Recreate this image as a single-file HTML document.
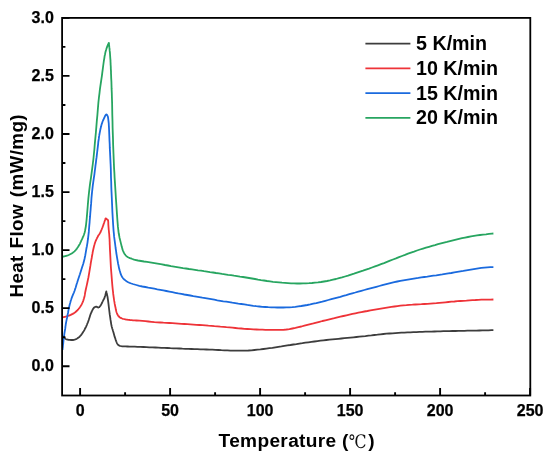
<!DOCTYPE html>
<html lang="en"><head><meta charset="utf-8"><title>Heat Flow vs Temperature</title>
<style>html,body{margin:0;padding:0;background:#fff}svg{display:block}</style></head>
<body>
<svg width="550" height="461" viewBox="0 0 550 461">
<rect width="550" height="461" fill="#fff"/>
<clipPath id="c"><rect x="62.1" y="17.9" width="468.2" height="377.6"/></clipPath>
<g clip-path="url(#c)" fill="none" stroke-linejoin="round" stroke-linecap="butt" stroke-width="1.80">
<path d="M62.1 336.0L62.3 336.1L62.5 336.1L62.6 336.2L62.8 336.3L63.0 336.4L63.2 336.5L63.6 336.8L64.0 337.2L64.4 337.7L64.8 338.2L65.3 338.7L65.8 339.0L66.4 339.3L67.1 339.5L67.9 339.6L68.7 339.8L69.4 339.8L70.2 339.9L70.9 340.0L71.6 340.0L72.4 340.0L73.1 340.0L73.8 339.9L74.5 339.7L75.3 339.4L76.0 339.1L76.8 338.7L77.5 338.3L78.2 337.8L78.9 337.3L79.6 336.7L80.2 336.0L80.8 335.3L81.4 334.6L82.0 333.8L82.5 333.0L83.0 332.2L83.6 331.3L84.1 330.5L84.6 329.6L85.0 328.7L85.5 327.8L86.0 326.8L86.4 325.8L86.9 324.8L87.3 323.7L87.8 322.6L88.2 321.5L88.7 320.1L89.2 318.5L89.7 316.9L90.2 315.3L90.7 313.9L91.3 312.5L91.8 311.5L92.2 310.5L92.7 309.6L93.2 308.8L93.7 308.0L94.2 307.5L94.6 307.2L94.9 307.0L95.3 306.9L95.7 306.8L96.0 306.7L96.4 306.7L96.8 306.8L97.1 306.9L97.5 307.2L97.8 307.4L98.2 307.5L98.5 307.5L98.9 307.3L99.3 307.1L99.6 306.7L100.0 306.2L100.4 305.8L100.7 305.3L101.1 304.7L101.5 303.9L101.9 303.2L102.2 302.4L102.6 301.6L102.9 300.9L103.2 300.4L103.4 299.9L103.7 299.5L103.9 299.0L104.2 298.6L104.4 298.0L104.7 297.1L105.1 296.0L105.4 294.9L105.7 293.7L106.0 292.5L106.3 291.4L106.5 292.5L106.8 293.5L107.0 294.5L107.2 295.6L107.5 296.7L107.7 298.0L108.0 300.1L108.3 302.4L108.6 304.9L108.9 307.5L109.2 310.0L109.5 312.5L109.8 314.9L110.2 317.3L110.5 319.7L110.9 322.0L111.2 324.1L111.6 326.0L111.8 327.0L112.1 327.9L112.3 328.7L112.6 329.5L112.8 330.3L113.1 331.2L113.5 332.5L113.9 334.0L114.3 335.5L114.7 336.9L115.2 338.3L115.6 339.6L115.9 340.4L116.2 341.3L116.5 342.0L116.8 342.8L117.1 343.4L117.5 344.0L117.8 344.4L118.1 344.7L118.4 345.1L118.8 345.3L119.2 345.6L119.6 345.8L120.4 346.0L121.2 346.2L122.2 346.3L123.2 346.3L124.3 346.3L125.5 346.4L127.5 346.5L129.8 346.6L132.2 346.7L134.8 346.7L137.4 346.8L140.4 346.9L143.4 347.0L146.4 347.1L149.4 347.3L152.4 347.4L155.4 347.5L158.4 347.6L161.4 347.8L164.4 347.9L167.4 348.0L170.4 348.2L173.4 348.3L176.4 348.4L179.4 348.5L182.4 348.7L185.4 348.8L188.4 348.9L191.4 349.0L194.4 349.1L197.4 349.2L200.4 349.3L203.4 349.4L206.4 349.5L209.4 349.6L212.4 349.7L215.4 349.9L218.4 350.0L221.4 350.2L224.4 350.3L227.4 350.4L230.4 350.6L233.4 350.7L236.4 350.7L239.4 350.7L242.4 350.7L245.4 350.6L248.4 350.5L251.4 350.3L254.4 350.0L257.4 349.7L260.4 349.4L263.4 349.0L266.4 348.6L269.4 348.2L272.4 347.8L275.4 347.3L278.4 346.8L281.4 346.4L284.4 345.9L287.4 345.4L290.4 345.0L293.4 344.5L296.4 344.1L299.4 343.6L302.4 343.2L305.4 342.7L308.4 342.3L311.4 341.9L314.4 341.5L317.4 341.1L320.4 340.7L323.4 340.3L326.4 340.0L329.4 339.7L332.4 339.4L335.4 339.1L338.4 338.8L341.4 338.5L344.4 338.2L347.4 337.9L350.4 337.6L353.4 337.3L356.4 337.0L359.4 336.7L362.4 336.4L365.4 336.1L368.4 335.7L371.4 335.4L374.4 335.0L377.4 334.7L380.4 334.3L383.4 334.0L386.4 333.7L389.4 333.5L392.4 333.3L395.4 333.1L398.4 332.9L401.4 332.7L404.4 332.6L407.4 332.4L410.4 332.3L413.4 332.2L416.4 332.1L419.4 331.9L422.4 331.8L425.4 331.7L428.4 331.6L431.4 331.6L434.4 331.5L437.4 331.4L440.4 331.3L443.4 331.2L446.4 331.2L449.4 331.1L452.4 331.0L455.4 331.0L458.4 330.9L461.4 330.9L464.4 330.8L467.4 330.7L470.4 330.7L473.4 330.6L476.4 330.6L479.4 330.5L482.4 330.4L485.4 330.4L488.4 330.3L491.4 330.2L493.4 330.2" stroke="#3d3d3d"/>
<path d="M62.1 317.4L62.3 317.4L62.5 317.3L62.6 317.3L62.8 317.3L63.1 317.3L63.3 317.2L64.0 317.0L64.8 316.9L65.8 316.6L66.8 316.3L67.8 316.0L68.7 315.7L69.7 315.3L70.7 314.9L71.7 314.4L72.7 313.9L73.6 313.4L74.5 312.8L75.3 312.2L76.1 311.5L76.9 310.8L77.6 310.0L78.3 309.3L78.9 308.5L79.5 307.8L80.0 307.1L80.5 306.4L80.9 305.6L81.4 304.9L81.8 304.1L82.2 303.2L82.6 302.3L83.0 301.3L83.4 300.3L83.7 299.3L84.0 298.3L84.3 297.2L84.6 296.0L84.8 294.9L85.0 293.6L85.2 292.4L85.5 291.0L85.9 289.0L86.4 286.9L86.9 284.6L87.4 282.3L87.9 279.9L88.4 277.5L88.9 274.7L89.4 271.7L89.9 268.7L90.4 265.7L90.8 262.8L91.3 260.1L91.7 258.0L92.0 256.0L92.4 254.0L92.7 252.1L93.1 250.2L93.5 248.5L93.8 247.2L94.1 245.9L94.5 244.6L94.8 243.5L95.2 242.3L95.6 241.2L96.0 240.3L96.4 239.4L96.8 238.6L97.2 237.7L97.6 237.0L98.0 236.2L98.4 235.6L98.7 235.0L99.1 234.5L99.5 233.9L99.8 233.3L100.2 232.7L100.7 231.8L101.1 230.7L101.6 229.6L102.0 228.5L102.5 227.4L102.9 226.2L103.4 224.9L103.8 223.6L104.3 222.3L104.7 221.0L105.2 219.6L105.6 218.3L108.1 220.2L108.2 221.5L108.3 222.8L108.3 224.1L108.4 225.4L108.5 226.7L108.6 228.0L108.7 229.5L108.9 231.0L109.0 232.5L109.2 234.0L109.3 235.5L109.4 237.0L109.5 238.4L109.6 239.7L109.6 241.0L109.7 242.4L109.7 243.9L109.8 245.5L109.9 248.6L110.1 252.0L110.3 255.8L110.5 259.7L110.7 263.6L110.9 267.4L111.2 271.2L111.5 275.0L111.8 278.9L112.1 282.7L112.4 286.1L112.7 289.2L112.9 290.9L113.1 292.4L113.2 293.9L113.4 295.2L113.6 296.6L113.8 298.0L114.0 299.5L114.2 300.9L114.5 302.4L114.7 303.9L115.0 305.3L115.3 306.7L115.6 308.0L115.8 309.3L116.1 310.6L116.4 311.8L116.8 313.0L117.2 314.0L117.6 314.7L118.0 315.4L118.4 316.0L118.9 316.5L119.4 317.0L120.0 317.5L120.6 317.9L121.4 318.2L122.1 318.5L122.9 318.8L123.7 319.0L124.5 319.2L125.4 319.4L126.2 319.6L127.1 319.7L128.0 319.8L129.0 319.9L130.0 320.0L131.5 320.1L133.1 320.3L134.7 320.4L136.4 320.5L139.4 320.7L142.4 320.9L145.4 321.2L148.4 321.5L151.4 321.8L154.4 322.1L157.4 322.3L160.4 322.5L163.4 322.7L166.4 322.8L169.4 323.0L172.4 323.2L175.4 323.4L178.4 323.6L181.4 323.8L184.4 324.0L187.4 324.2L190.4 324.4L193.4 324.6L196.4 324.8L199.4 325.0L202.4 325.2L205.4 325.4L208.4 325.7L211.4 325.9L214.4 326.2L217.4 326.4L220.4 326.7L223.4 326.9L226.4 327.2L229.4 327.4L232.4 327.7L235.4 328.0L238.4 328.3L241.4 328.5L244.4 328.8L247.4 329.0L250.4 329.2L253.4 329.4L256.4 329.5L259.4 329.6L262.4 329.7L265.4 329.8L268.4 329.8L271.4 329.9L274.4 329.9L277.4 329.9L280.4 329.9L283.4 329.8L286.4 329.5L289.4 329.1L292.4 328.5L295.4 327.9L298.4 327.2L301.4 326.5L304.4 325.7L307.4 324.9L310.4 324.1L313.4 323.4L316.4 322.6L319.4 321.8L322.4 321.0L325.4 320.3L328.4 319.6L331.4 318.9L334.4 318.2L337.4 317.4L340.4 316.7L343.4 316.0L346.4 315.3L349.4 314.6L352.4 313.9L355.4 313.3L358.4 312.7L361.4 312.1L364.4 311.5L367.4 311.0L370.4 310.4L373.4 309.9L376.4 309.4L379.4 308.9L382.4 308.4L385.4 307.9L388.4 307.4L391.4 306.9L394.4 306.5L397.4 306.1L400.4 305.7L403.4 305.3L406.4 305.1L409.4 304.8L412.4 304.7L415.4 304.5L418.4 304.3L421.4 304.2L424.4 304.0L427.4 303.8L430.4 303.6L433.4 303.4L436.4 303.2L439.4 302.9L442.4 302.6L445.4 302.3L448.4 302.0L451.4 301.7L454.4 301.5L457.4 301.2L460.4 301.0L463.4 300.8L466.4 300.6L469.4 300.3L472.4 300.1L475.4 300.0L478.4 299.8L481.4 299.7L484.4 299.7L487.4 299.6L490.4 299.6L493.4 299.5" stroke="#ee3338"/>
<path d="M62.5 350.0L62.6 348.7L62.8 347.4L62.9 346.1L63.0 344.9L63.2 343.6L63.3 342.4L63.4 341.4L63.5 340.4L63.6 339.4L63.7 338.5L63.9 337.5L64.0 336.5L64.2 335.3L64.3 334.1L64.5 332.9L64.7 331.7L64.9 330.5L65.1 329.3L65.3 328.2L65.4 327.2L65.5 326.1L65.7 325.1L65.8 324.0L66.0 323.0L66.2 321.9L66.4 320.9L66.6 319.9L66.8 318.8L67.1 317.7L67.3 316.5L67.6 314.8L68.0 313.0L68.3 311.0L68.7 309.1L69.1 307.2L69.5 305.5L69.8 304.2L70.2 303.0L70.5 301.8L70.8 300.6L71.2 299.5L71.6 298.3L72.0 297.1L72.5 295.9L73.0 294.7L73.5 293.5L74.0 292.3L74.5 291.0L75.0 289.4L75.6 287.8L76.1 286.1L76.6 284.3L77.2 282.5L77.8 280.5L78.8 277.5L79.9 274.3L81.0 270.8L82.1 267.3L83.2 264.0L84.0 261.0L84.5 259.0L84.9 257.0L85.3 255.2L85.6 253.4L85.9 251.6L86.2 249.8L86.5 248.0L86.9 246.2L87.2 244.4L87.5 242.6L87.7 240.8L88.0 239.0L88.2 237.2L88.4 235.4L88.6 233.7L88.8 231.9L88.9 230.0L89.1 228.0L89.3 225.3L89.6 222.3L89.8 219.3L90.1 216.2L90.3 213.1L90.6 210.0L90.8 207.0L91.1 203.9L91.3 200.9L91.5 197.8L91.8 194.7L92.1 191.6L92.5 188.2L92.9 184.7L93.4 181.2L93.9 177.7L94.4 174.3L94.8 171.0L95.2 168.1L95.5 165.3L95.9 162.6L96.2 159.9L96.6 157.2L96.9 154.5L97.2 152.0L97.5 149.4L97.8 146.8L98.1 144.3L98.3 142.0L98.6 140.0L98.8 138.9L98.9 137.8L99.0 136.8L99.2 135.9L99.3 135.0L99.5 134.0L99.7 132.9L99.9 131.9L100.1 130.8L100.3 129.7L100.6 128.6L100.8 127.6L101.1 126.6L101.3 125.6L101.6 124.6L101.9 123.6L102.2 122.7L102.5 121.8L102.8 121.0L103.1 120.3L103.5 119.5L103.8 118.8L104.1 118.1L104.4 117.5L104.6 117.1L104.8 116.7L104.9 116.3L105.1 115.9L105.3 115.6L105.5 115.3L105.7 115.1L105.8 114.9L106.0 114.7L106.2 114.6L106.3 114.5L106.5 114.5L106.7 114.6L106.9 114.7L107.1 115.0L107.3 115.3L107.4 115.6L107.6 115.9L107.8 116.5L108.0 117.1L108.1 117.9L108.2 118.7L108.3 119.5L108.4 120.3L108.5 121.2L108.6 122.1L108.7 123.0L108.8 123.9L108.8 125.0L108.9 126.1L109.0 128.1L109.1 130.3L109.2 132.7L109.3 135.3L109.4 137.9L109.5 140.6L109.7 144.2L109.8 147.9L110.0 151.8L110.2 155.9L110.4 159.9L110.6 164.0L110.8 168.4L110.9 172.8L111.0 177.4L111.2 182.0L111.3 186.7L111.5 191.6L111.8 198.0L112.1 204.9L112.4 212.1L112.8 219.0L113.2 225.5L113.6 231.0L113.9 233.8L114.1 236.4L114.4 238.7L114.7 240.9L115.0 243.2L115.3 245.5L115.6 248.0L116.0 250.5L116.3 253.0L116.7 255.4L117.1 257.8L117.5 260.1L117.8 261.9L118.1 263.7L118.5 265.4L118.8 267.1L119.2 268.7L119.6 270.3L120.0 271.6L120.4 272.9L120.8 274.2L121.3 275.4L121.9 276.5L122.5 277.5L123.1 278.3L123.9 279.1L124.6 279.8L125.4 280.4L126.2 281.0L126.9 281.5L127.4 281.8L127.9 282.1L128.3 282.3L128.8 282.5L129.4 282.8L130.0 283.0L131.3 283.5L132.8 284.0L134.5 284.5L136.3 285.0L139.3 285.8L142.3 286.5L145.3 287.0L148.3 287.6L151.3 288.1L154.3 288.7L157.3 289.3L160.3 289.8L163.3 290.4L166.3 291.0L169.3 291.6L172.3 292.2L175.3 292.8L178.3 293.4L181.3 293.9L184.3 294.5L187.3 295.0L190.3 295.5L193.3 296.1L196.3 296.6L199.3 297.1L202.3 297.7L205.3 298.2L208.3 298.7L211.3 299.2L214.3 299.7L217.3 300.3L220.3 300.8L223.3 301.3L226.3 301.7L229.3 302.2L232.3 302.7L235.3 303.1L238.3 303.6L241.3 304.0L244.3 304.4L247.3 304.9L250.3 305.3L253.3 305.8L256.3 306.2L259.3 306.5L262.3 306.8L265.3 307.0L268.3 307.2L271.3 307.3L274.3 307.4L277.3 307.5L280.3 307.5L283.3 307.5L286.3 307.4L289.3 307.3L292.3 307.1L295.3 306.8L298.3 306.4L301.3 306.0L304.3 305.5L307.3 305.0L310.3 304.4L313.3 303.7L316.3 303.1L319.3 302.3L322.3 301.6L325.3 300.8L328.3 300.0L331.3 299.2L334.3 298.4L337.3 297.6L340.3 296.8L343.3 295.9L346.3 295.1L349.3 294.2L352.3 293.3L355.3 292.5L358.3 291.6L361.3 290.8L364.3 290.0L367.3 289.2L370.3 288.4L373.3 287.6L376.3 286.8L379.3 286.0L382.3 285.2L385.3 284.4L388.3 283.6L391.3 282.9L394.3 282.2L397.3 281.5L400.3 280.9L403.3 280.3L406.3 279.8L409.3 279.3L412.3 278.8L415.3 278.3L418.3 277.9L421.3 277.4L424.3 277.0L427.3 276.6L430.3 276.1L433.3 275.7L436.3 275.3L439.3 274.8L442.3 274.4L445.3 273.9L448.3 273.4L451.3 273.0L454.3 272.4L457.3 271.9L460.3 271.4L463.3 270.9L466.3 270.3L469.3 269.8L472.3 269.3L475.3 268.8L478.3 268.3L481.3 267.9L484.3 267.6L487.3 267.4L490.3 267.2L493.3 267.1L493.4 267.1" stroke="#1a6ade"/>
<path d="M62.1 256.6L62.3 256.6L62.6 256.6L62.8 256.6L63.0 256.6L63.3 256.5L63.6 256.5L64.3 256.4L65.1 256.2L66.0 256.0L66.9 255.7L67.8 255.4L68.7 255.0L69.7 254.5L70.7 254.0L71.7 253.5L72.7 252.8L73.6 252.1L74.5 251.4L75.3 250.5L76.1 249.6L76.9 248.6L77.6 247.6L78.3 246.5L78.9 245.5L79.5 244.6L80.0 243.6L80.4 242.7L80.9 241.7L81.3 240.7L81.8 239.7L82.4 238.4L82.9 237.2L83.5 235.9L84.0 234.5L84.5 232.9L85.0 231.0L85.9 226.0L86.6 219.7L87.2 212.7L87.8 205.3L88.4 198.1L89.1 191.6L89.7 186.7L90.3 182.1L91.0 177.6L91.6 173.1L92.2 168.6L92.8 164.0L93.4 159.0L93.9 154.0L94.4 149.0L94.8 143.9L95.3 138.7L95.8 133.4L96.3 127.4L96.8 121.1L97.4 114.8L97.9 108.5L98.4 102.5L99.0 97.0L99.5 93.1L99.9 89.4L100.4 85.9L100.9 82.5L101.4 79.1L101.9 75.8L102.3 72.7L102.7 69.6L103.1 66.5L103.5 63.5L103.9 60.7L104.3 58.3L104.5 56.9L104.7 55.7L105.0 54.5L105.2 53.4L105.4 52.3L105.7 51.2L106.0 50.2L106.3 49.3L106.6 48.3L106.9 47.4L107.2 46.6L107.5 45.8L107.7 45.3L107.9 44.8L108.2 44.3L108.4 43.8L108.6 43.4L108.8 42.9L108.9 44.0L109.1 45.1L109.2 46.1L109.3 47.2L109.5 48.3L109.6 49.5L109.7 50.9L109.9 52.3L110.0 53.8L110.1 55.3L110.2 56.8L110.3 58.2L110.4 59.4L110.5 60.6L110.5 61.8L110.6 63.0L110.6 64.2L110.7 65.5L110.8 67.0L110.8 68.4L110.9 69.9L111.0 71.5L111.0 73.2L111.1 75.0L111.2 78.1L111.4 81.5L111.5 85.1L111.6 88.9L111.8 92.9L111.9 97.0L112.1 102.6L112.2 108.6L112.3 114.8L112.5 121.2L112.6 127.4L112.8 133.4L113.0 138.7L113.1 143.9L113.3 149.0L113.5 154.0L113.7 159.0L113.9 164.0L114.1 168.6L114.4 173.1L114.6 177.6L114.9 182.1L115.2 186.7L115.5 191.6L115.9 198.2L116.4 205.5L116.9 213.1L117.4 220.2L117.9 226.4L118.4 231.0L118.6 232.3L118.7 233.3L118.9 234.2L119.0 235.0L119.2 235.9L119.4 236.8L119.6 238.0L119.9 239.2L120.2 240.4L120.5 241.6L120.8 242.9L121.1 244.1L121.4 245.3L121.7 246.6L122.1 247.9L122.4 249.1L122.8 250.3L123.3 251.4L123.7 252.3L124.1 253.1L124.6 253.9L125.1 254.6L125.6 255.3L126.2 255.9L126.8 256.4L127.4 256.8L128.0 257.2L128.6 257.5L129.3 257.8L130.0 258.1L130.8 258.4L131.6 258.7L132.4 259.0L133.3 259.3L134.2 259.6L135.0 259.8L138.0 260.5L141.0 261.0L144.0 261.5L147.0 261.9L150.0 262.4L153.0 262.9L156.0 263.4L159.0 263.9L162.0 264.4L165.0 265.0L168.0 265.5L171.0 266.1L174.0 266.6L177.0 267.1L180.0 267.6L183.0 268.1L186.0 268.5L189.0 269.0L192.0 269.4L195.0 269.8L198.0 270.3L201.0 270.7L204.0 271.2L207.0 271.6L210.0 272.1L213.0 272.5L216.0 273.0L219.0 273.4L222.0 273.9L225.0 274.3L228.0 274.8L231.0 275.2L234.0 275.7L237.0 276.1L240.0 276.6L243.0 277.0L246.0 277.5L249.0 278.0L252.0 278.5L255.0 279.0L258.0 279.6L261.0 280.1L264.0 280.5L267.0 281.0L270.0 281.4L273.0 281.8L276.0 282.1L279.0 282.4L282.0 282.7L285.0 282.9L288.0 283.1L291.0 283.3L294.0 283.4L297.0 283.5L300.0 283.5L303.0 283.4L306.0 283.3L309.0 283.2L312.0 283.0L315.0 282.7L318.0 282.4L321.0 282.0L324.0 281.5L327.0 281.0L330.0 280.4L333.0 279.7L336.0 279.0L339.0 278.2L342.0 277.4L345.0 276.5L348.0 275.6L351.0 274.6L354.0 273.7L357.0 272.7L360.0 271.7L363.0 270.7L366.0 269.6L369.0 268.6L372.0 267.5L375.0 266.4L378.0 265.3L381.0 264.2L384.0 263.1L387.0 261.9L390.0 260.7L393.0 259.5L396.0 258.4L399.0 257.2L402.0 256.0L405.0 254.9L408.0 253.7L411.0 252.6L414.0 251.6L417.0 250.5L420.0 249.5L423.0 248.6L426.0 247.7L429.0 246.8L432.0 245.9L435.0 245.1L438.0 244.2L441.0 243.4L444.0 242.6L447.0 241.9L450.0 241.1L453.0 240.3L456.0 239.6L459.0 238.9L462.0 238.2L465.0 237.6L468.0 237.0L471.0 236.4L474.0 235.9L477.0 235.4L480.0 235.0L483.0 234.6L486.0 234.3L489.0 233.9L492.0 233.6L493.4 233.5" stroke="#27a560"/>
</g>
<path d="M80.1 395.5v-7.4M170.1 395.5v-7.4M260.1 395.5v-7.4M350.1 395.5v-7.4M440.1 395.5v-7.4M530.1 395.5v-7.4M125.1 395.5v-3.3M215.1 395.5v-3.3M305.1 395.5v-3.3M395.1 395.5v-3.3M485.1 395.5v-3.3M62.1 366.2h7.4M62.1 308.1h7.4M62.1 250.1h7.4M62.1 192.1h7.4M62.1 134.0h7.4M62.1 75.9h7.4M62.1 17.9h7.4M62.1 337.2h3.3M62.1 279.1h3.3M62.1 221.1h3.3M62.1 163.0h3.3M62.1 105.0h3.3M62.1 46.9h3.3" stroke="#000" stroke-width="1.9" fill="none"/>
<rect x="62.1" y="17.9" width="468.2" height="377.6" fill="none" stroke="#000" stroke-width="1.8"/>
<g font-family="'Liberation Sans', Arial, sans-serif" font-weight="bold" font-size="16" fill="#000" stroke="#000" stroke-width="0.25">
<text x="80.1" y="416.2" text-anchor="middle">0</text>
<text x="170.1" y="416.2" text-anchor="middle">50</text>
<text x="260.1" y="416.2" text-anchor="middle">100</text>
<text x="350.1" y="416.2" text-anchor="middle">150</text>
<text x="440.1" y="416.2" text-anchor="middle">200</text>
<text x="530.1" y="416.2" text-anchor="middle">250</text>
<text x="53.8" y="371.4" text-anchor="end">0.0</text>
<text x="53.8" y="313.3" text-anchor="end">0.5</text>
<text x="53.8" y="255.3" text-anchor="end">1.0</text>
<text x="53.8" y="197.2" text-anchor="end">1.5</text>
<text x="53.8" y="139.2" text-anchor="end">2.0</text>
<text x="53.8" y="81.1" text-anchor="end">2.5</text>
<text x="53.8" y="23.1" text-anchor="end">3.0</text>
</g>
<text y="447.3" font-family="'Liberation Sans', Arial, sans-serif" font-weight="bold" font-size="19.1" fill="#000"><tspan x="218.6" letter-spacing="0.33">Temperature (</tspan><tspan x="348.7" y="447.8" font-family="'DejaVu Serif', 'Noto Serif CJK SC', serif" font-weight="normal" font-size="18.4" fill="#111" textLength="17.6" lengthAdjust="spacingAndGlyphs">℃</tspan><tspan x="368.3" y="447.3">)</tspan></text>
<text transform="translate(22.8 205.8) rotate(-90)" text-anchor="middle" letter-spacing="0.35" word-spacing="1.2" font-family="'Liberation Sans', Arial, sans-serif" font-weight="bold" font-size="18.9" fill="#000">Heat Flow (mW/mg)</text>
<line x1="365.4" x2="410.4" y1="43.6" y2="43.6" stroke="#3d3d3d" stroke-width="1.8"/>
<text x="416" y="50.0" font-family="'Liberation Sans', Arial, sans-serif" font-weight="bold" font-size="19.7" fill="#000">5 K/min</text>
<line x1="365.4" x2="410.4" y1="68.3" y2="68.3" stroke="#ee3338" stroke-width="1.8"/>
<text x="416" y="74.7" font-family="'Liberation Sans', Arial, sans-serif" font-weight="bold" font-size="19.7" fill="#000">10 K/min</text>
<line x1="365.4" x2="410.4" y1="93.2" y2="93.2" stroke="#1a6ade" stroke-width="1.8"/>
<text x="416" y="99.6" font-family="'Liberation Sans', Arial, sans-serif" font-weight="bold" font-size="19.7" fill="#000">15 K/min</text>
<line x1="365.4" x2="410.4" y1="117.8" y2="117.8" stroke="#27a560" stroke-width="1.8"/>
<text x="416" y="124.2" font-family="'Liberation Sans', Arial, sans-serif" font-weight="bold" font-size="19.7" fill="#000">20 K/min</text>
</svg>
</body></html>
